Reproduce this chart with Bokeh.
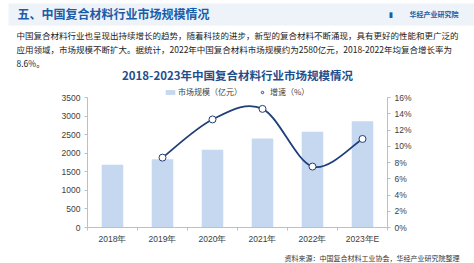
import numpy as np
from bokeh.plotting import figure
from bokeh.models import (Range1d, LinearAxis, FixedTicker, NumeralTickFormatter,
                          Label, Legend, LegendItem, ColumnDataSource, BoxAnnotation)
from bokeh.embed import file_html
from bokeh.resources import INLINE

# ---- data ----
years = ["2018年", "2019年", "2020年", "2021年", "2022年", "2023年E"]
market_size = [1690, 1835, 2095, 2395, 2580, 2860]          # 亿元
growth = [None, 8.6, 13.3, 14.6, 7.5, 10.9]                 # %
left_ticks = [0, 500, 1000, 1500, 2000, 2500, 3000, 3500]
right_ticks = [0, 2, 4, 6, 8, 10, 12, 14, 16]

page_title = "五、中国复合材料行业市场规模情况"
para = [
    "中国复合材料行业也呈现出持续增长的趋势，随着科技的进步，新型的复合材料不断涌现，具有更好的性能和更广泛的",
    "应用领域，市场规模不断扩大。据统计，2022年中国复合材料市场规模约为2580亿元，2018-2022年均复合增长率为",
    "8.6%。",
]
chart_title = "2018-2023年中国复合材料行业市场规模情况"
source_text = "资料来源：中国复合材料工业协会，华经产业研究院整理"
brand = "华经产业研究院"
legend_labels = ["市场规模（亿元）", "增速（%）"]

W, H = 474, 263
CJK = "Noto Sans CJK SC"
BAR = "#c6d8f0"
NAVY = "#1f3f7a"
AX = "#bfbfbf"
TXT = "#404040"

# plot area inside the canvas (pixels from left / top)
PL, PR, PT, PB = 87, 387, 97, 227
ncat = len(years)
px_per_cat = (PR - PL) / ncat
x_start = -0.5 - PL / px_per_cat
x_end = ncat - 0.5 + (W - PR) / px_per_cat
ymax_l = left_ticks[-1]
y_start = -(H - PB) * ymax_l / (PB - PT)
y_end = ymax_l + PT * ymax_l / (PB - PT)
ymax_r = right_ticks[-1] / 100
r_scale = ymax_r / ymax_l

p = figure(width=W, height=H, output_backend="svg", toolbar_location=None,
           x_range=Range1d(x_start, x_end), y_range=Range1d(y_start, y_end),
           min_border=0)
p.outline_line_color = None
p.xgrid.grid_line_color = None
p.ygrid.grid_line_color = None
p.background_fill_color = "white"
p.border_fill_color = "white"

# header band
p.add_layout(BoxAnnotation(left=8, right=W, top=H - 3, bottom=H - 25,
                           left_units="screen", right_units="screen",
                           top_units="screen", bottom_units="screen",
                           fill_color="#eef2f9", fill_alpha=1, line_color=None,
                           level="underlay"))

xs = np.arange(ncat)
src = ColumnDataSource(dict(x=xs, top=market_size))
bars = p.vbar(x="x", top="top", width=0.43, source=src, fill_color=BAR, line_color=None)

p.extra_y_ranges = {"g": Range1d(y_start * r_scale, y_end * r_scale)}
gx = np.array([i for i, g in enumerate(growth) if g is not None], dtype=float)
gy = np.array([g / 100.0 for g in growth if g is not None])

# smoothed line (spreadsheet-style bezier smoothing through the points)
n = len(gx)
x0, y0, x1, y1, cx0, cy0, cx1, cy1 = [], [], [], [], [], [], [], []
for i in range(n - 1):
    pm = i - 1 if i > 0 else i
    pn = i + 2 if i + 2 < n else i + 1
    x0.append(gx[i]); y0.append(gy[i]); x1.append(gx[i + 1]); y1.append(gy[i + 1])
    cx0.append(gx[i] + (gx[i + 1] - gx[pm]) / 6); cy0.append(gy[i] + (gy[i + 1] - gy[pm]) / 6)
    cx1.append(gx[i + 1] - (gx[pn] - gx[i]) / 6); cy1.append(gy[i + 1] - (gy[pn] - gy[i]) / 6)
p.bezier(x0=x0, y0=y0, x1=x1, y1=y1, cx0=cx0, cy0=cy0, cx1=cx1, cy1=cy1,
         line_color=NAVY, line_width=1.8, y_range_name="g")
pts = p.scatter(gx, gy, size=7, fill_color="white", line_color=NAVY, line_width=1,
                y_range_name="g")
legline = p.line(x=[], y=[], line_color=NAVY, line_width=1.5, y_range_name="g")


def style(ax):
    ax.axis_line_color = AX
    ax.major_tick_line_color = AX
    ax.major_tick_in = 0
    ax.major_tick_out = 3
    ax.minor_tick_line_color = None
    ax.major_label_text_font = "Liberation Sans"
    ax.major_label_text_font_size = "8.5px"
    ax.major_label_text_color = TXT
    ax.major_label_standoff = 4


xa = p.xaxis[0]
style(xa)
xa.fixed_location = 0
xa.bounds = (-0.5, ncat - 0.5)
xa.ticker = FixedTicker(ticks=list(xs), minor_ticks=[i - 0.5 for i in range(ncat + 1)])
xa.major_label_overrides = {int(i): y for i, y in zip(xs, years)}
xa.major_tick_line_color = None
xa.minor_tick_line_color = AX
xa.minor_tick_in = 0
xa.minor_tick_out = 3
xa.major_label_standoff = 3

ya = p.yaxis[0]
style(ya)
ya.fixed_location = -0.5
ya.bounds = (0, ymax_l)
ya.ticker = FixedTicker(ticks=left_ticks)

ra = LinearAxis(y_range_name="g", ticker=FixedTicker(ticks=[t / 100 for t in right_ticks]),
                formatter=NumeralTickFormatter(format="0%"), bounds=(0, ymax_r),
                fixed_location=ncat - 0.5)
style(ra)
p.add_layout(ra, "right")

leg = Legend(items=[LegendItem(label=legend_labels[0], renderers=[bars]),
                    LegendItem(label=legend_labels[1], renderers=[legline, pts])],
             orientation="horizontal", location=(164, H - 97),
             label_text_font=CJK, label_text_font_size="8px", label_text_color=TXT,
             glyph_width=12, glyph_height=6, label_standoff=2, spacing=14,
             padding=0, margin=0, border_line_color=None, background_fill_alpha=0,
             label_height=8)
p.add_layout(leg, "center")


def lab(text, x, y_top, size, color, bold=False, align="left"):
    p.add_layout(Label(x=x, y=H - y_top, x_units="screen", y_units="screen", text=text,
                       text_font=CJK, text_font_size=size, text_color=color,
                       text_font_style="bold" if bold else "normal",
                       text_align=align, text_baseline="middle"))


lab(page_title, 17, 13, "12px", "#1b5ca8", bold=True)
lab("▮", 388, 13, "7px", "#1b5ca8", bold=True)
lab(brand, 458, 13, "7px", "#1b5ca8", bold=True, align="right")
for i, line in enumerate(para):
    lab(line, 16, 34 + 14 * i, "8.5px", "#222222")
lab(chart_title, W / 2, 74, "11.5px", "#1f4e8c", bold=True, align="center")
lab(source_text, 459, 257, "7px", "#333333", align="right")

open("out.html", "w").write(file_html(p, INLINE))
